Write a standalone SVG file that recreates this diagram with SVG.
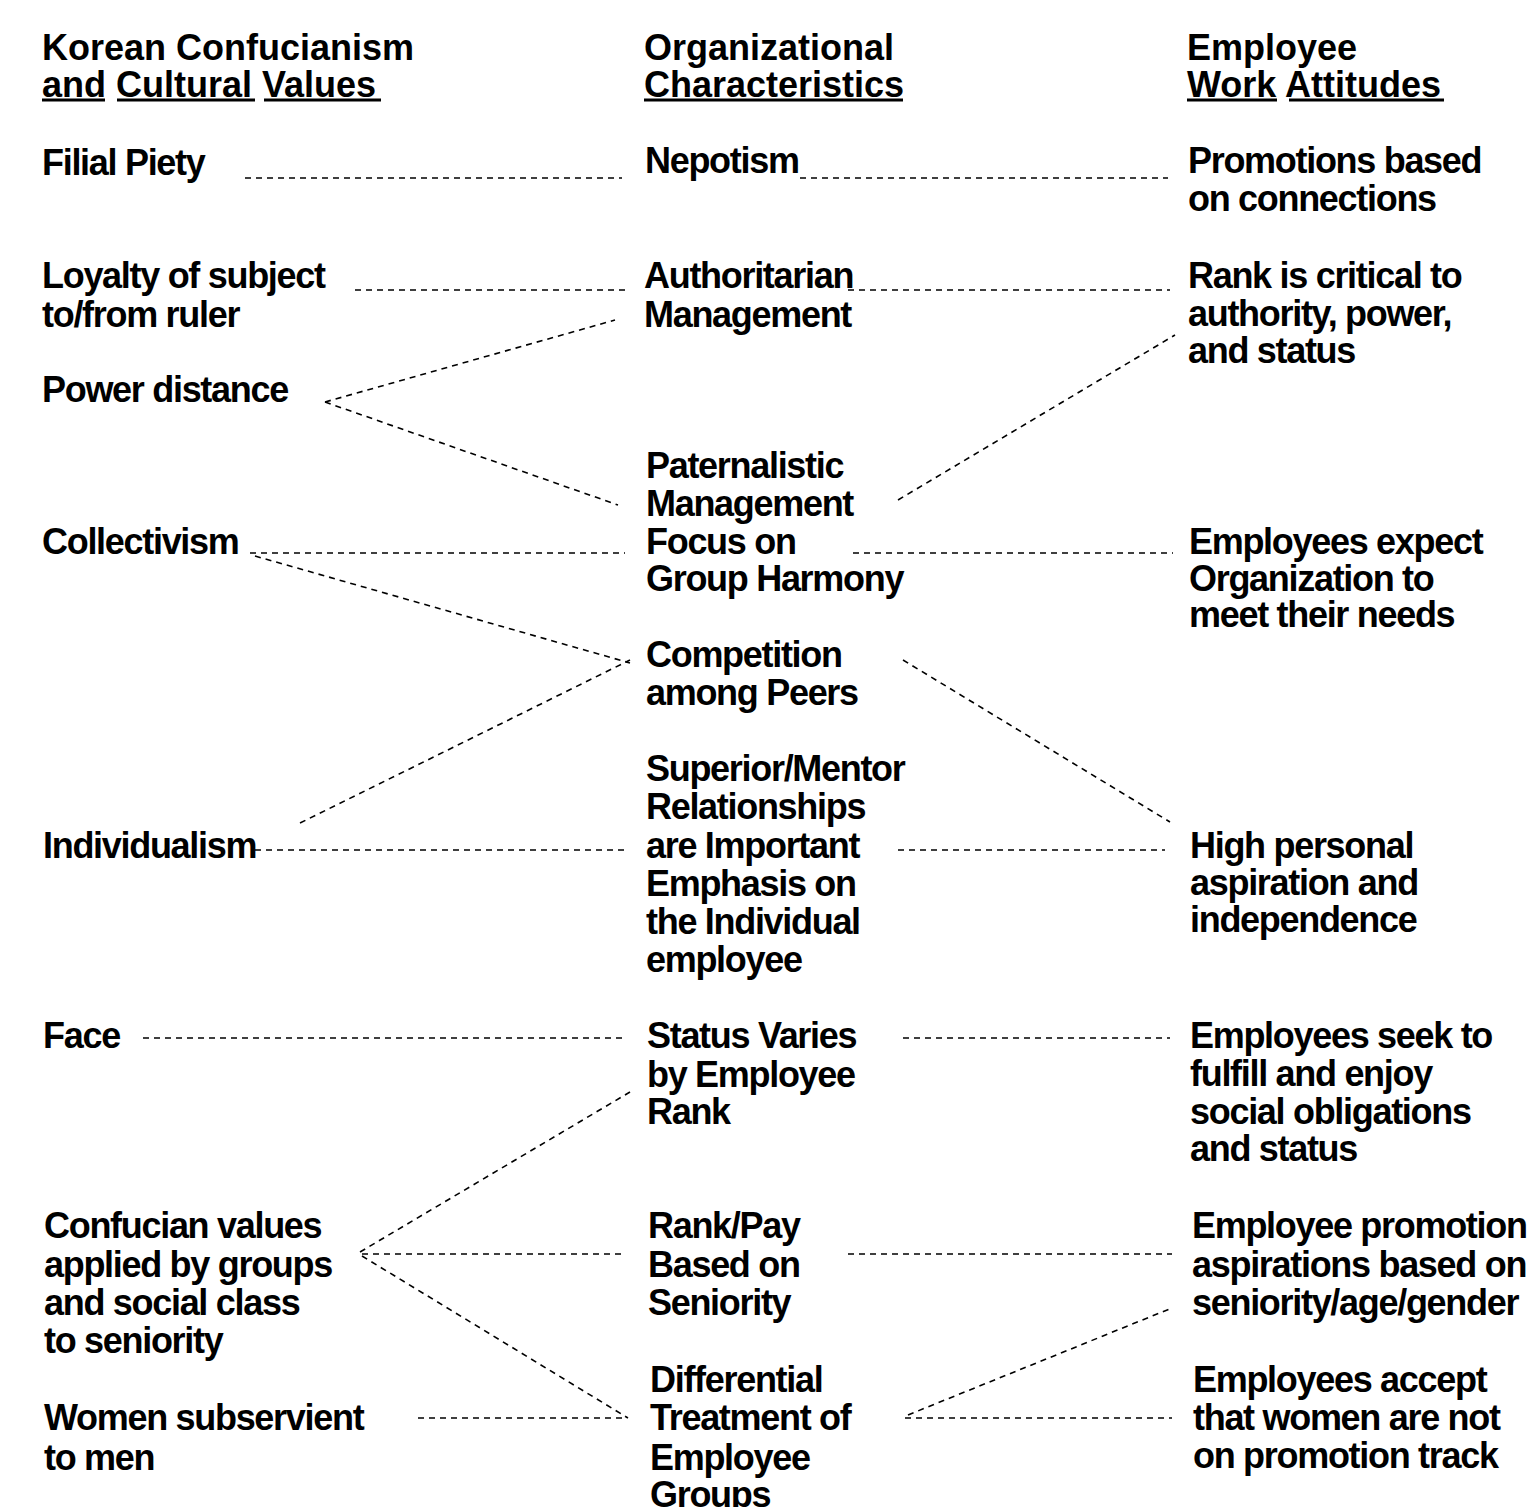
<svg xmlns="http://www.w3.org/2000/svg" width="1534" height="1507" viewBox="0 0 1534 1507">
<style>
text{font-family:"Liberation Sans",Arial,Helvetica,sans-serif;font-weight:bold;font-size:36px;fill:#000;letter-spacing:-1.3px}
.hd{letter-spacing:0px}
.ul{stroke:#000;stroke-width:3}
.c line{stroke:#000;stroke-width:1.6;stroke-dasharray:6 5;fill:none}
</style>
<rect width="1534" height="1507" fill="#fff"/>
<g id="header-values"><text class="hd" x="42" y="60">Korean Confucianism</text><text class="hd" x="42" y="97">and Cultural Values</text><line class="ul" x1="42" y1="100" x2="105" y2="100"/><line class="ul" x1="117" y1="100" x2="255" y2="100"/><line class="ul" x1="264" y1="100" x2="381" y2="100"/></g>
<g id="header-org"><text class="hd" x="644" y="60">Organizational</text><text class="hd" x="644" y="97">Characteristics</text><line class="ul" x1="644" y1="100" x2="903" y2="100"/></g>
<g id="header-att"><text class="hd" x="1187" y="60">Employee</text><text class="hd" x="1187" y="97">Work Attitudes</text><line class="ul" x1="1187" y1="100" x2="1277" y2="100"/><line class="ul" x1="1289" y1="100" x2="1444" y2="100"/></g>

<g id="filial"><text x="42" y="175">Filial Piety</text></g>
<g id="loyalty"><text x="42" y="288">Loyalty of subject</text><text x="42" y="327">to/from ruler</text></g>
<g id="power"><text x="42" y="402">Power distance</text></g>
<g id="collectivism"><text x="42" y="554">Collectivism</text></g>
<g id="individualism"><text x="43" y="858">Individualism</text></g>
<g id="face"><text x="43" y="1048">Face</text></g>
<g id="confucian"><text x="44" y="1238">Confucian values</text><text x="44" y="1277">applied by groups</text><text x="44" y="1315">and social class</text><text x="44" y="1353">to seniority</text></g>
<g id="women"><text x="44" y="1430">Women subservient</text><text x="44" y="1470">to men</text></g>

<g id="nepotism"><text x="645" y="173">Nepotism</text></g>
<g id="authoritarian"><text x="644" y="288">Authoritarian</text><text x="644" y="327">Management</text></g>
<g id="paternalistic"><text x="646" y="478">Paternalistic</text><text x="646" y="516">Management</text></g>
<g id="focus"><text x="646" y="554">Focus on</text><text x="646" y="591">Group Harmony</text></g>
<g id="competition"><text x="646" y="667">Competition</text><text x="646" y="705">among Peers</text></g>
<g id="superior"><text x="646" y="781">Superior/Mentor</text><text x="646" y="819">Relationships</text><text x="646" y="858">are Important</text></g>
<g id="emphasis"><text x="646" y="896">Emphasis on</text><text x="646" y="934">the Individual</text><text x="646" y="972">employee</text></g>
<g id="status"><text x="647" y="1048">Status Varies</text><text x="647" y="1087">by Employee</text><text x="647" y="1124">Rank</text></g>
<g id="rankpay"><text x="648" y="1238">Rank/Pay</text><text x="648" y="1277">Based on</text><text x="648" y="1315">Seniority</text></g>
<g id="differential"><text x="650" y="1392">Differential</text><text x="650" y="1430">Treatment of</text><text x="650" y="1470">Employee</text><text x="650" y="1507">Groups</text></g>

<g id="promotions"><text x="1188" y="173">Promotions based</text><text x="1188" y="211">on connections</text></g>
<g id="rank-critical"><text x="1188" y="288">Rank is critical to</text><text x="1188" y="326">authority, power,</text><text x="1188" y="363">and status</text></g>
<g id="expect"><text x="1189" y="554">Employees expect</text><text x="1189" y="591">Organization to</text><text x="1189" y="627">meet their needs</text></g>
<g id="high-personal"><text x="1190" y="858">High personal</text><text x="1190" y="895">aspiration and</text><text x="1190" y="932">independence</text></g>
<g id="seek"><text x="1190" y="1048">Employees seek to</text><text x="1190" y="1086">fulfill and enjoy</text><text x="1190" y="1124">social obligations</text><text x="1190" y="1161">and status</text></g>
<g id="promotion-asp"><text x="1192" y="1238">Employee promotion</text><text x="1192" y="1277">aspirations based on</text><text x="1192" y="1315">seniority/age/gender</text></g>
<g id="accept"><text x="1193" y="1392">Employees accept</text><text x="1193" y="1430">that women are not</text><text x="1193" y="1468">on promotion track</text></g>

<g id="connectors" class="c">
<line x1="245" y1="178" x2="622" y2="178"/>
<line x1="800" y1="178" x2="1168" y2="178"/>
<line x1="355" y1="290" x2="628" y2="290"/>
<line x1="848" y1="290" x2="1170" y2="290"/>
<line x1="325" y1="402" x2="615" y2="320"/>
<line x1="325" y1="402" x2="618" y2="505"/>
<line x1="898" y1="500" x2="1175" y2="335"/>
<line x1="250" y1="553" x2="625" y2="553"/>
<line x1="853" y1="553" x2="1173" y2="553"/>
<line x1="255" y1="556" x2="630" y2="663"/>
<line x1="300" y1="823" x2="630" y2="660"/>
<line x1="903" y1="660" x2="1170" y2="822"/>
<line x1="255" y1="850" x2="625" y2="850"/>
<line x1="898" y1="850" x2="1165" y2="850"/>
<line x1="143" y1="1038" x2="622" y2="1038"/>
<line x1="903" y1="1038" x2="1170" y2="1038"/>
<line x1="360" y1="1252" x2="630" y2="1092"/>
<line x1="362" y1="1254" x2="625" y2="1254"/>
<line x1="362" y1="1256" x2="628" y2="1418"/>
<line x1="848" y1="1254" x2="1172" y2="1254"/>
<line x1="418" y1="1418" x2="625" y2="1418"/>
<line x1="905" y1="1418" x2="1172" y2="1418"/>
<line x1="908" y1="1415" x2="1172" y2="1308"/>
</g>
</svg>
